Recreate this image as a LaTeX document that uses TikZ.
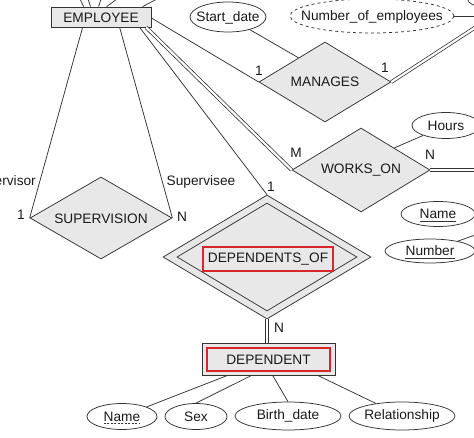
\documentclass[tikz,border=0pt]{standalone}
\usepackage{fontspec}
\setmainfont{Liberation Sans}
\usetikzlibrary{shapes.geometric,calc}
\definecolor{ln}{HTML}{333333}
\definecolor{fl}{HTML}{E8E8E8}
\definecolor{tx}{HTML}{1A1A1A}
\definecolor{hl}{HTML}{D9262B}
\begin{document}
\begin{tikzpicture}[x=1pt,y=-1pt,
  font=\fontsize{13.7}{16}\selectfont,
  every node/.style={text=tx},
  ent/.style={draw=ln, fill=fl, line width=0.75pt, rectangle, inner sep=0pt},
  rel/.style={draw=ln, fill=fl, line width=0.75pt, diamond, inner sep=0pt},
  attr/.style={draw=ln, fill=white, ellipse, line width=0.75pt, inner sep=0pt},
  dattr/.style={attr, dashed},
  conn/.style={draw=ln, line width=0.75pt},
  dbl/.style={draw=ln, line width=0.75pt, double=white, double distance=2.2pt},
  txt/.style={inner sep=0pt},
  hlbox/.style={draw=hl, line width=2.4pt, rectangle, inner sep=0pt}]
\useasboundingbox (0,0) rectangle (474,438);
\begin{scope}
\clip (0,0) rectangle (474,438);
% ---------- entities ----------
\node[ent, minimum width=100pt, minimum height=20pt] (emp) at (101,17) {};
\node[txt] (empt) at (101,17.5) {EMPLOYEE};
% ---------- relationships ----------
\node[rel, minimum width=142pt, minimum height=82pt] (sup) at (101,218) {};
\node[txt] (supt) at (101,218.5) {SUPERVISION};
\node[rel, minimum width=132pt, minimum height=80pt] (man) at (325,82) {};
\node[txt] (mant) at (325,82) {MANAGES};
\node[rel, minimum width=138pt, minimum height=84pt] (wo) at (361,170) {};
\node[txt] (wot) at (361,170.5) {WORKS\_ON};
\node[rel, minimum width=208pt, minimum height=124pt] (dof) at (267,257) {};
\node[rel, minimum width=180pt, minimum height=108pt] (dofi) at (267,257) {};
\node[hlbox, minimum width=130pt, minimum height=24pt] (dofh) at (268,259) {};
\node[txt] (doft) at (268,259) {DEPENDENTS\_OF};
% ---------- weak entity ----------
\node[ent, minimum width=133pt, minimum height=32pt] (dep) at (268.5,359) {};
\node[hlbox, minimum width=123pt, minimum height=23pt] (deph) at (268.5,359.5) {};
\node[txt] (dept) at (268.5,359.5) {DEPENDENT};
% ---------- attributes ----------
\node[attr, minimum width=76pt, minimum height=30pt] (sd) at (228,17) {};
\node[txt] (sdt) at (228,17.5) {Start\_date};
\node[dattr, minimum width=164pt, minimum height=34pt] (noe) at (372,16) {};
\node[txt] (noet) at (372,16.5) {Number\_of\_employees};
\node[attr, minimum width=84pt, minimum height=20pt] (tr) at (510,0) {};
\node[attr, minimum width=68pt, minimum height=26pt] (hrs) at (446,125.5) {};
\node[txt] (hrst) at (446,126) {Hours};
\node[attr, minimum width=74pt, minimum height=25pt] (pn) at (438,214) {};
\node[txt] (pnt) at (438,214) {Name};
\node[attr, minimum width=90pt, minimum height=24pt] (pnum) at (430,251) {};
\node[txt] (pnumt) at (430,251) {Number};
\node[attr, minimum width=70pt, minimum height=26pt] (dn) at (122,416.5) {};
\node[txt] (dnt) at (122,416.5) {Name};
\node[attr, minimum width=62pt, minimum height=26pt] (dsx) at (196,416.5) {};
\node[txt] (dsxt) at (196,416.5) {Sex};
\node[attr, minimum width=106pt, minimum height=28pt] (dbd) at (288,416) {};
\node[txt] (dbdt) at (288,416) {Birth\_date};
\node[attr, minimum width=106pt, minimum height=28pt] (drel) at (402,416) {};
\node[txt] (drelt) at (402,416) {Relationship};
% underlines
\draw[conn, line width=0.6pt] ([yshift=-2.2pt]pnt.base west) -- ([yshift=-2.2pt]pnt.base east);
\draw[conn, line width=0.6pt] ([yshift=-2.2pt]pnumt.base west) -- ([yshift=-2.2pt]pnumt.base east);
\draw[conn, line width=0.6pt, dash pattern=on 2pt off 1.5pt] ([yshift=-2.2pt]dnt.base west) -- ([yshift=-2.2pt]dnt.base east);
% ---------- free ends ----------
\coordinate (t1) at (80,-1);
\coordinate (t2) at (88,-1);
\coordinate (t3) at (101,-1);
\coordinate (t4) at (117,-1);
\coordinate (t5) at (157,-1);
\coordinate (re1) at (476,27);
\coordinate (re2) at (476,170);
\coordinate (re3) at (476,16);
\coordinate (re4) at (478,234);
% ---------- connectors ----------
\draw[conn] ([xshift=33pt]emp.north west) -- (t1);
\draw[conn] ([xshift=40pt]emp.north west) -- (t2);
\draw[conn] ([xshift=48pt]emp.north west) -- (t3);
\draw[conn] ([xshift=56pt]emp.north west) -- (t4);
\draw[conn] ([xshift=92pt]emp.north west) -- (t5);
\draw[conn] ([xshift=32pt]emp.south west) -- (sup.west);
\draw[conn] ([xshift=69pt]emp.south west) -- (sup.east);
\draw[conn] ([yshift=-1pt]emp.east) -- (man.west);
\draw[dbl] ([xshift=95.5pt]emp.south west) -- (wo.west);
\draw[conn] ([xshift=89pt]emp.south west) -- (dof.north);
\draw[conn] (sd) -- ($(man.west)!0.6!(man.north)$);
\draw[dbl] (man.east) -- (re1);
\draw[conn] (noe.east) -- (re3);
\draw[conn] (hrs) -- ($(wo.north)!0.48!(wo.east)$);
\draw[dbl] (wo.east) -- (re2);
\draw[conn] (pnum) -- (re4);
\draw[dbl] (dof.south) -- (dof.south |- dep.north);
\draw[conn] ([xshift=26pt]dep.south west) -- (dn);
\draw[conn] ([xshift=50pt]dep.south west) -- (dsx.north);
\draw[conn] ([xshift=71pt]dep.south west) -- (dbd.north);
\draw[conn] ([xshift=116pt]dep.south west) -- (drel);
% ---------- labels ----------
\node[txt] (l1) at (21,215) {1};
\node[txt] (l2) at (182,217) {N};
\node[txt, anchor=east] (l3) at (36,182) {Supervisor};
\node[txt] (l4) at (201,182) {Supervisee};
\node[txt] (l5) at (259,71) {1};
\node[txt] (l6) at (385,68) {1};
\node[txt] (l7) at (296,153) {M};
\node[txt] (l8) at (430,155) {N};
\node[txt] (l9) at (271,187) {1};
\node[txt] (l10) at (279,328) {N};
\end{scope}
\end{tikzpicture}
\end{document}
